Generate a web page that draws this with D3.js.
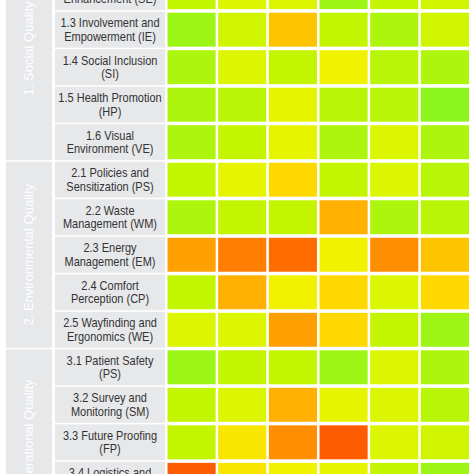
<!DOCTYPE html>
<html><head><meta charset="utf-8">
<script src="https://cdn.jsdelivr.net/npm/d3@7"></script>
<style>body{margin:0;background:#fff}svg{display:block}</style>
</head><body>
<svg id="c" width="474" height="474"></svg>
<script>
const rowIds = ["1.2","1.3","1.4","1.5","1.6","2.1","2.2","2.3","2.4","2.5","3.1","3.2","3.3","3.4"];
const rowLabels = [
 ["1.2 Self-Esteem","Enhancement (SE)"],
 ["1.3 Involvement and","Empowerment (IE)"],
 ["1.4 Social Inclusion","(SI)"],
 ["1.5 Health Promotion","(HP)"],
 ["1.6 Visual","Environment (VE)"],
 ["2.1 Policies and","Sensitization (PS)"],
 ["2.2 Waste","Management (WM)"],
 ["2.3 Energy","Management (EM)"],
 ["2.4 Comfort","Perception (CP)"],
 ["2.5 Wayfinding and","Ergonomics (WE)"],
 ["3.1 Patient Safety","(PS)"],
 ["3.2 Survey and","Monitoring (SM)"],
 ["3.3 Future Proofing","(FP)"],
 ["3.4 Logistics and","Supply (LS)"]
];
const columns = ["H1","H2","H3","H4","H5","H6"];
const values = [
 [3,4,4,1.5,3,3.5],
 [1.5,3.5,6.5,3,2,3.5],
 [2,4,3,5,2.5,2],
 [2,2.5,4.5,2.5,2.5,1],
 [2,3,4.5,2,4,2],
 [3,4.5,6,3,4,2.5],
 [2,3,3,7,2,2.5],
 [7.5,8.5,9,5,8,6.5],
 [3,7,5,6,4,6],
 [4,4,7.5,6,3,1.5],
 [1.5,3,3,1.5,4,2],
 [3,4,7,4.5,4,2.5],
 [3,5.5,8,9.5,4,3.5],
 [9.5,5.5,5,4.5,3,1.5]
];
const groups = [
 {name:"1. Social Quality", first:"1.2", last:"1.6", before:1, after:0},
 {name:"2. Environmental Quality", first:"2.1", last:"2.5", before:0, after:0},
 {name:"3. Operational Quality", first:"3.1", last:"3.4", before:0, after:1}
];
const colorStops = [1,2,3,4,5,6,7,8,9,10];
const colorRange = ["#8cf51e","#adf50c","#c4f500","#dcf500","#f0f200","#ffd800","#ffb000","#ff8e00","#ff6c00","#ff4a00"];

const svg = d3.select("#c");
const font = "Liberation Sans, Arial, sans-serif";
const y = d3.scaleBand().domain(rowIds).range([-26.5, -26.5+14*37.5]).paddingInner(0.095).paddingOuter(0.045);
const x = d3.scaleBand().domain(columns).range([166.5, 470]).paddingInner(0.05).paddingOuter(0.02);
const color = d3.scaleLinear().domain(colorStops).range(colorRange).clamp(true);
const step = y.step();

groups.forEach(g=>{
  const y0 = y(g.first) - g.before*step - 1;
  const y1 = y(g.last) + y.bandwidth() + g.after*step + 1;
  svg.append("rect").attr("x",6).attr("y",y0).attr("width",46).attr("height",y1-y0).attr("fill","#e7e8ea");
  const cy=(y0+y1)/2;
  svg.append("text").attr("transform",`translate(33,${cy}) rotate(-90)`)
    .attr("text-anchor","middle").attr("font-family",font).attr("font-size",13)
    .attr("fill","#fff").text(g.name);
});

rowIds.forEach((id,i)=>{
  svg.append("rect").attr("x",55).attr("y",y(id)-1).attr("width",110).attr("height",y.bandwidth()+2).attr("fill","#e7e8ea");
  const cy = y(id)+y.bandwidth()/2;
  const t = svg.append("text").attr("text-anchor","middle").attr("font-family",font).attr("font-size",12.5).attr("fill","#333")
    .attr("transform",`translate(110,0) scale(0.88,1)`);
  t.append("tspan").attr("x",0).attr("y",cy-2.5).text(rowLabels[i][0]);
  t.append("tspan").attr("x",0).attr("y",cy+11).text(rowLabels[i][1]);
});

rowIds.forEach((id,i)=>{
  columns.forEach((c,j)=>{
    svg.append("rect").attr("x",x(c)).attr("y",y(id)).attr("width",x.bandwidth()).attr("height",y.bandwidth())
      .attr("fill",color(values[i][j]));
  });
});
</script>
</body></html>
